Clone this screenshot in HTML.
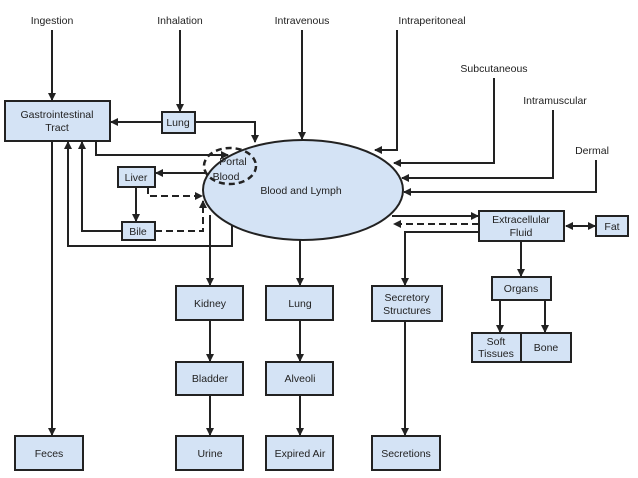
<!DOCTYPE html>
<html><head><style>body{margin:0;background:#fff}svg{display:block}text{font-family:"Liberation Sans",sans-serif;font-size:10.5px;fill:#222}</style></head><body>
<svg width="638" height="478" viewBox="0 0 638 478">
<defs><marker id="a" markerWidth="8" markerHeight="8" refX="7" refY="4" orient="auto" markerUnits="userSpaceOnUse"><path d="M0,0L8,4L0,8z" fill="#222"/></marker>
<marker id="s" markerWidth="8" markerHeight="8" refX="1" refY="4" orient="auto" markerUnits="userSpaceOnUse"><path d="M8,0L0,4L8,8z" fill="#222"/></marker></defs>
<g fill="none" stroke="#222" stroke-width="2">
<path d="M52,30V100" marker-end="url(#a)"/>
<path d="M180,30V111" marker-end="url(#a)"/>
<path d="M162,122H111" marker-end="url(#a)"/>
<path d="M195,122H255V142" marker-end="url(#a)"/>
<path d="M302,30V139" marker-end="url(#a)"/>
<path d="M397,30V150H375" marker-end="url(#a)"/>
<path d="M494,78V163H394" marker-end="url(#a)"/>
<path d="M553,110V178H402" marker-end="url(#a)"/>
<path d="M596,160V192H404" marker-end="url(#a)"/>
<path d="M96,141V155H228" marker-end="url(#a)"/>
<path d="M205,173H156" marker-end="url(#a)"/>
<path d="M136,187V221" marker-end="url(#a)"/>
<path d="M122,231H82V142" marker-end="url(#a)"/>
<path d="M232,225V246H68V142" marker-end="url(#a)"/>
<path d="M52,141V435" marker-end="url(#a)"/>
<path d="M210,215V285" marker-end="url(#a)"/>
<path d="M300,240V285" marker-end="url(#a)"/>
<path d="M392,216H478" marker-end="url(#a)"/>
<path d="M479,232H405V285" marker-end="url(#a)"/>
<path d="M566,226H595" marker-end="url(#a)" marker-start="url(#s)"/>
<path d="M521,241V276" marker-end="url(#a)"/>
<path d="M500,300V332" marker-end="url(#a)"/>
<path d="M545,300V332" marker-end="url(#a)"/>
<path d="M210,320V361" marker-end="url(#a)"/><path d="M210,395V435" marker-end="url(#a)"/>
<path d="M300,320V361" marker-end="url(#a)"/><path d="M300,395V435" marker-end="url(#a)"/>
<path d="M405,321V435" marker-end="url(#a)"/>
<g stroke-dasharray="7,4"><path d="M148,187V196H202" marker-end="url(#a)"/>
<path d="M155,231H203V201" marker-end="url(#a)"/>
<path d="M479,224H394" marker-end="url(#a)"/></g>
</g>
<ellipse cx="303" cy="190" rx="100" ry="50" fill="#d4e3f5" stroke="#222" stroke-width="2"/>
<ellipse cx="230" cy="166" rx="26" ry="18" fill="none" stroke="#222" stroke-width="2.5" stroke-dasharray="6,4"/>
<g fill="#d4e3f5" stroke="#222" stroke-width="2">
<rect x="5" y="101" width="105" height="40"/><rect x="162" y="112" width="33" height="21"/>
<rect x="118" y="167" width="37" height="20"/><rect x="122" y="222" width="33" height="18"/>
<rect x="479" y="211" width="85" height="30"/><rect x="596" y="216" width="32" height="20"/>
<rect x="492" y="277" width="59" height="23"/><rect x="472" y="333" width="49" height="29"/><rect x="521" y="333" width="50" height="29"/>
<rect x="372" y="286" width="70" height="35"/>
<rect x="176" y="286" width="67" height="34"/><rect x="266" y="286" width="67" height="34"/>
<rect x="176" y="362" width="67" height="33"/><rect x="266" y="362" width="67" height="33"/>
<rect x="15" y="436" width="68" height="34"/><rect x="176" y="436" width="67" height="34"/><rect x="266" y="436" width="67" height="34"/><rect x="372" y="436" width="68" height="34"/>
</g>
<g text-anchor="middle">
<text x="52" y="24">Ingestion</text><text x="180" y="24">Inhalation</text><text x="302" y="24">Intravenous</text><text x="432" y="24">Intraperitoneal</text>
<text x="494" y="72">Subcutaneous</text><text x="555" y="104">Intramuscular</text><text x="592" y="154">Dermal</text>
<text x="57" y="118">Gastrointestinal</text><text x="57" y="131">Tract</text>
<text x="178" y="126">Lung</text><text x="136" y="181">Liver</text><text x="138" y="235">Bile</text>
<text x="233" y="165">Portal</text><text x="226" y="180">Blood</text><text x="301" y="194">Blood and Lymph</text>
<text x="521" y="223">Extracellular</text><text x="521" y="236">Fluid</text><text x="612" y="230">Fat</text>
<text x="521" y="292">Organs</text><text x="496" y="345">Soft</text><text x="496" y="357">Tissues</text><text x="546" y="351">Bone</text>
<text x="407" y="301">Secretory</text><text x="407" y="314">Structures</text>
<text x="210" y="307">Kidney</text><text x="300" y="307">Lung</text><text x="210" y="382">Bladder</text><text x="300" y="382">Alveoli</text>
<text x="49" y="457">Feces</text><text x="210" y="457">Urine</text><text x="300" y="457">Expired Air</text><text x="406" y="457">Secretions</text>
</g>
</svg></body></html>
